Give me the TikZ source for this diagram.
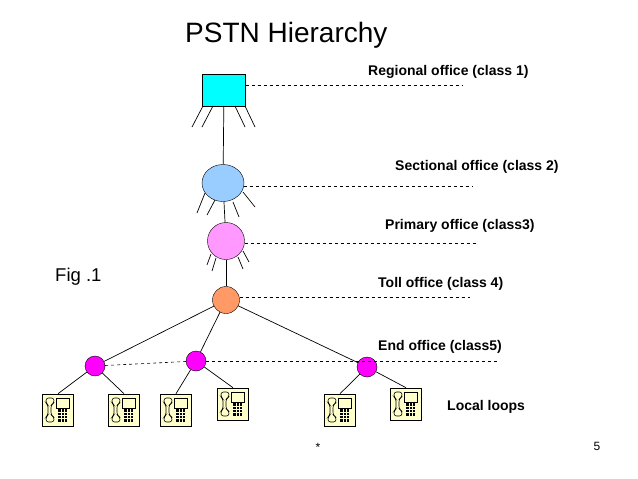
\documentclass[tikz,border=0pt]{standalone}
\usepackage{fontspec}
\usetikzlibrary{shapes.geometric}
\setmainfont{Liberation Sans}
\definecolor{regcyan}{RGB}{0,255,255}
\definecolor{endmag}{RGB}{255,0,255}
\definecolor{secblue}{RGB}{153,204,255}
\definecolor{tollor}{RGB}{255,153,102}
\definecolor{pripink}{RGB}{255,153,255}
\definecolor{phy}{RGB}{255,255,204}
\begin{document}
\begin{tikzpicture}[x=1pt,y=-1pt,
  lbl/.style={font=\bfseries\fontsize{14}{16}\selectfont,anchor=west,inner sep=0},
  dsh/.style={dashed,line width=0.6pt},
  ln/.style={line width=0.7pt},
  phone/.style={draw,fill=phy,minimum width=31pt,minimum height=32pt,inner sep=0,line width=0.6pt}]
\useasboundingbox (0,0) rectangle (638,479);
\node[font=\fontsize{28}{32}\selectfont,anchor=west,inner sep=0] (title) at (185,35) {PSTN Hierarchy};
\node[font=\fontsize{18.5}{22}\selectfont,anchor=west,inner sep=0] (fig) at (55,277) {Fig .1};
\node[font=\fontsize{12}{14}\selectfont,inner sep=0] (star) at (318,447) {*};
\node[font=\fontsize{12}{14}\selectfont,inner sep=0] (pg) at (597,446) {5};
% offices
\node[draw,fill=regcyan,minimum width=43pt,minimum height=32pt,inner sep=0] (reg) at (224,90) {};
\node[draw,fill=secblue,ellipse,minimum width=42pt,minimum height=37pt,inner sep=0] (sec) at (223,183) {};
\node[draw,fill=pripink,circle,minimum size=37pt,inner sep=0] (pri) at (226,241) {};
\node[draw,fill=tollor,circle,minimum size=27pt,inner sep=0] (toll) at (226,300) {};
\node[draw,fill=endmag,circle,minimum size=20pt,inner sep=0] (e1) at (95,366) {};
\node[draw,fill=endmag,circle,minimum size=20pt,inner sep=0] (e2) at (196,361) {};
\node[draw,fill=endmag,circle,minimum size=20pt,inner sep=0] (e3) at (367,367) {};
% labels
\node[lbl] (l1) at (368,72) {Regional office (class 1)};
\node[lbl] (l2) at (395,167) {Sectional office (class 2)};
\node[lbl] (l3) at (385,226) {Primary office (class3)};
\node[lbl] (l4) at (378,284) {Toll office (class 4)};
\node[lbl] (l5) at (378,347) {End office (class5)};
\node[lbl] (l6) at (447,407) {Local loops};
% dashed leaders
\coordinate (d1) at (463,85); \coordinate (d2) at (473,186);
\coordinate (d3) at (478,243); \coordinate (d4) at (470,297);
\coordinate (d5) at (500,361);
\draw[dsh] (reg.east|-d1) -- (d1);
\draw[dsh] (sec.east|-d2) -- (d2);
\draw[dsh] (pri.east|-d3) -- (d3);
\draw[dsh] (toll.east|-d4) -- (d4);
\draw[dsh] (e1) -- (e2);
\draw[dsh] (e2.east) -- (d5);
% trunks
\draw[ln] (reg) -- (sec);
\draw[ln] (sec) -- (pri);
\draw[ln] (pri) -- (toll);
\draw[ln] (toll) -- (e1);
\draw[ln] (toll) -- (e2);
\draw[ln] (toll) -- (e3);
% spikes
\coordinate (s1a) at (203,106); \coordinate (s1b) at (192,127);
\coordinate (s2a) at (213,106); \coordinate (s2b) at (202,127);
\coordinate (s3a) at (235,106); \coordinate (s3b) at (245,127);
\coordinate (s4a) at (245,106); \coordinate (s4b) at (255,127);
\draw[ln] (s1a)--(s1b) (s2a)--(s2b) (s3a)--(s3b) (s4a)--(s4b);
\coordinate (t1a) at (205,193); \coordinate (t1b) at (197,213);
\coordinate (t2a) at (215,200); \coordinate (t2b) at (207,215);
\coordinate (t3a) at (233,202); \coordinate (t3b) at (239,217);
\coordinate (t4a) at (243,192); \coordinate (t4b) at (255,207);
\draw[ln] (t1a)--(t1b) (t2a)--(t2b) (t3a)--(t3b) (t4a)--(t4b);
\coordinate (u1a) at (211,254); \coordinate (u1b) at (207,265);
\coordinate (u2a) at (216,258); \coordinate (u2b) at (212,271);
\coordinate (u3a) at (238,257); \coordinate (u3b) at (243,269);
\coordinate (u4a) at (243,251); \coordinate (u4b) at (249,262);
\draw[ln] (u1a)--(u1b) (u2a)--(u2b) (u3a)--(u3b) (u4a)--(u4b);
% phones
\newcommand\phonedet[1]{%
  \begin{scope}[shift={(#1.center)}]
   \draw[fill=phy,line width=0.6pt,rounded corners=2.5pt] (-12,-12) -- (-4,-12) -- (-4,-7) -- (-7,-5) -- (-7,5) -- (-4,7) -- (-4,12) -- (-12,12) -- (-12,7) -- (-10,5) -- (-10,-5) -- (-12,-7) -- cycle;
   \draw[fill=phy,line width=0.6pt] (-2,-12) rectangle (11,-2);
   \fill (0,-1) rectangle (9,12);
   \foreach \i in {3,6} \draw[phy,line width=0.6pt] (\i,-1)--(\i,12);
   \foreach \j in {2,5,8} \draw[phy,line width=0.6pt] (0,\j)--(9,\j);
  \end{scope}}
\node[phone] (p1) at (58,410) {}; \phonedet{p1}
\node[phone] (p2) at (124,410) {}; \phonedet{p2}
\node[phone] (p3) at (176,410) {}; \phonedet{p3}
\node[phone] (p4) at (233,404) {}; \phonedet{p4}
\node[phone] (p5) at (340,410) {}; \phonedet{p5}
\node[phone] (p6) at (406,404) {}; \phonedet{p6}
\draw[ln] (e1) -- (p1.north); \draw[ln] (e1) -- (p2.north);
\draw[ln] (e2) -- (p3.north); \draw[ln] (e2) -- (p4.north);
\draw[ln] (e3) -- (p5.north); \draw[ln] (e3) -- (p6.north);
\end{tikzpicture}
\end{document}
